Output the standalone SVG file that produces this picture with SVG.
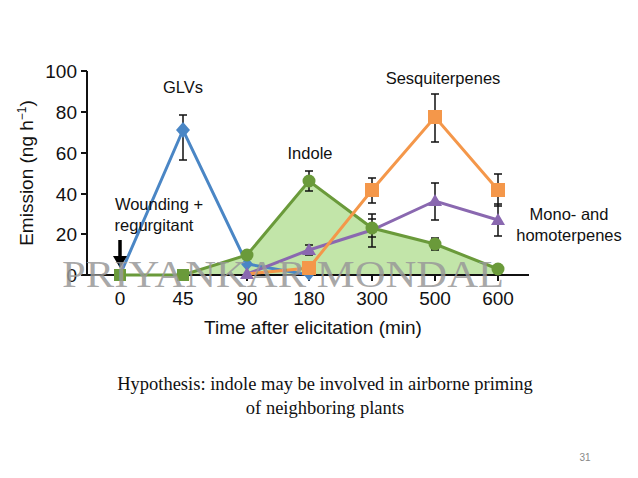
<svg xmlns="http://www.w3.org/2000/svg" width="638" height="478" viewBox="0 0 638 478">
<style>
.t{font-family:"Liberation Sans",Arial,sans-serif;font-size:19px;fill:#111}
.l{font-family:"Liberation Sans",Arial,sans-serif;font-size:16.5px;fill:#111}
.e{stroke:#111;stroke-width:1.5;fill:none}
.ax{stroke:#111;stroke-width:2;fill:none}
</style>
<rect width="638" height="478" fill="#fff"/>
<g id="fill"><polygon points="120,275 183,275 247,255 309,181 372,228 435,244 498,269 498,275" fill="#b7e09a" opacity="0.85"/></g>
<g id="axes">
<path class="ax" d="M87,71 V275 H529"/>
<path class="ax" d="M81,71H87M81,112H87M81,153H87M81,194H87M81,234H87M81,275H87M120,275v6M183,275v6M247,275v6M309,275v6M372,275v6M435,275v6M498,275v6"/>
<g class="t" text-anchor="end"><text x="77" y="78">100</text><text x="77" y="119">80</text><text x="77" y="160">60</text><text x="77" y="201">40</text><text x="77" y="241">20</text><text x="77" y="282">0</text></g>
<g class="t" text-anchor="middle"><text x="120" y="305">0</text><text x="183" y="305">45</text><text x="247" y="305">90</text><text x="309" y="305">180</text><text x="372" y="305">300</text><text x="435" y="305">500</text><text x="498" y="305">600</text>
<text x="313" y="334">Time after elicitation (min)</text></g>
<text class="t" transform="translate(33,173) rotate(-90)" text-anchor="middle">Emission (ng h<tspan dy="-7" font-size="12">−1</tspan><tspan dy="7">)</tspan></text>
</g>
<g id="connectors">
<path class="e" d="M183,115V160M179,115h8M179,160h8M309,171V191M305,171h8M305,191h8M372,219V237M368,219h8M368,237h8M435,238V250M431,238h8M431,250h8M309,245V255M305,245h8M305,255h8M372,214V247M368,214h8M368,247h8M435,183V220M431,183h8M431,220h8M498,204V236M494,204h8M494,236h8M372,178V203M368,178h8M368,203h8M435,94V142M431,94h8M431,142h8M498,174V206M494,174h8M494,206h8"/>
<polyline points="120,275 183,130 247,264 309,275" fill="none" stroke="#4a86c5" stroke-width="3"/>
<polyline points="120,275 183,275 247,255 309,181 372,228 435,244 498,269" fill="none" stroke="#6a9a3a" stroke-width="3"/>
<polyline points="247,274 309,250 372,230 435,201 498,220" fill="none" stroke="#8a68b0" stroke-width="3"/>
<polyline points="247,274 309,268 372,190 435,117 498,190" fill="none" stroke="#f4974a" stroke-width="3"/>
<path d="M120,240V258" stroke="#000" stroke-width="3.5"/><polygon points="113,256 127,256 120,268" fill="#000"/>
</g>
<g id="markers">
<g fill="#4a86c5"><polygon points="183,122 190,130 183,138 176,130"/><polygon points="247,257 253,264 247,271 241,264"/><polygon points="309,269 314,275 309,281 304,275"/></g>
<g fill="#6a9a3a"><rect x="114" y="269" width="12" height="12"/><rect x="177" y="269" width="12" height="12"/><circle cx="247" cy="255" r="6.5"/><circle cx="309" cy="181" r="6.5"/><circle cx="372" cy="228" r="6.5"/><circle cx="435" cy="244" r="6.5"/><circle cx="498" cy="269" r="6.5"/></g>
<g fill="#8a68b0"><polygon points="247,267 254,279 240,279"/><polygon points="309,243 316,255 302,255"/><polygon points="435,194 442,206 428,206"/><polygon points="498,213 505,225 491,225"/></g>
<g fill="#f4974a"><rect x="302" y="261" width="14" height="14"/><rect x="365" y="183" width="14" height="14"/><rect x="428" y="110" width="14" height="14"/><rect x="491" y="183" width="14" height="14"/></g>
</g>
<g id="labels" class="l">
<text x="183" y="93" text-anchor="middle">GLVs</text>
<text x="310" y="159" text-anchor="middle">Indole</text>
<text x="443" y="84" text-anchor="middle">Sesquiterpenes</text>
<text x="159" y="210" text-anchor="middle">Wounding +</text>
<text x="154" y="231" text-anchor="middle">regurgitant</text>
<text x="569" y="220" text-anchor="middle">Mono- and</text>
<text x="569" y="241" text-anchor="middle">homoterpenes</text>
</g>
<text x="283" y="287" text-anchor="middle" font-family="Liberation Serif,serif" font-size="38" fill="#999" fill-opacity="0.85" textLength="442" lengthAdjust="spacingAndGlyphs">PRIYANKAR MONDAL</text>
<g font-family="Liberation Serif,serif" font-size="18.5" fill="#111" text-anchor="middle">
<text x="325" y="390">Hypothesis: indole may be involved in airborne priming</text>
<text x="325" y="414">of neighboring plants</text>
</g>
<text x="585" y="461" text-anchor="middle" font-family="Liberation Sans,sans-serif" font-size="10" fill="#888">31</text>
</svg>
